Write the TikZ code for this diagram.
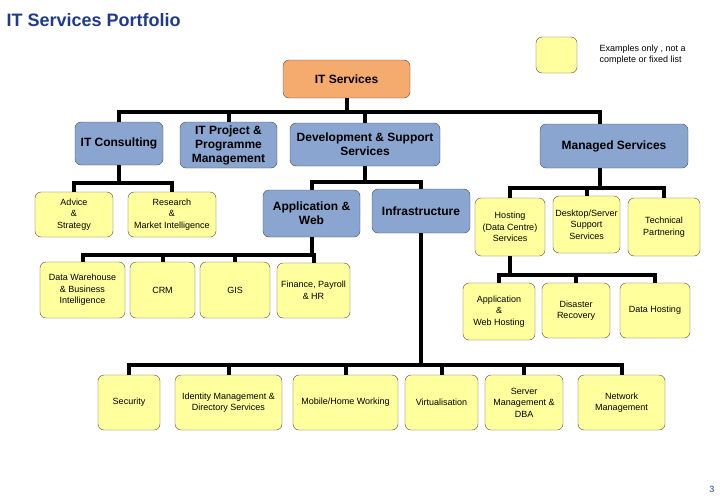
\documentclass[tikz,border=0pt]{standalone}
\usepackage{fontspec}
\setmainfont{Liberation Sans}
\usetikzlibrary{calc}
\definecolor{catblue}{HTML}{8AA5CF}
\definecolor{itemyel}{HTML}{FFFF9E}
\definecolor{topor}{HTML}{F5AA6E}
\definecolor{titleblue}{HTML}{1F3A8C}
\tikzset{
  box/.style={draw=black!70,rounded corners=6pt,align=center,inner sep=1pt},
  cat/.style={box,fill=catblue,font=\fontsize{12}{14}\selectfont\bfseries},
  item/.style={box,fill=itemyel,font=\fontsize{9}{11.5}\selectfont},
  bar/.style={line width=4pt,black}
}
\begin{document}
\begin{tikzpicture}[x=1pt,y=-1pt]
\useasboundingbox (0,0) rectangle (720,498);
\node[anchor=west,font=\fontsize{18}{20}\selectfont\bfseries,text=titleblue] (title) at (3,20) {IT Services Portfolio};
\node[anchor=south east,font=\fontsize{9}{10}\selectfont,text=titleblue] (page) at (718,496) {3};

% legend
\node[item,minimum width=41,minimum height=36] (key) at (556.5,55) {};
\node[anchor=west,align=left,font=\fontsize{9}{11}\selectfont] (keytxt) at (596,55) {Examples only , not a\\complete or fixed list};

% top level
\node[box,fill=topor,font=\fontsize{12}{14}\selectfont\bfseries,minimum width=127,minimum height=38] (svc) at (346.5,79) {IT Services};

\node[cat,minimum width=88,minimum height=43] (cons) at (119,143.5) {IT Consulting};
\node[cat,minimum width=97,minimum height=46] (proj) at (228.5,145) {IT Project \&\\Programme\\Management};
\node[cat,minimum width=150,minimum height=43] (dev) at (365,144.5) {Development \& Support\\Services};
\node[cat,minimum width=148,minimum height=44] (mng) at (614,146) {Managed Services};
\coordinate (mngtop) at ($(mng.north)+(-14,0)$);
\coordinate (mngbot) at ($(mng.south)+(-14,0)$);

\node[item,minimum width=78,minimum height=45] (adv) at (74,214.5) {Advice\\\&\\Strategy};
\node[item,minimum width=88,minimum height=45] (res) at (172,214.5) {Research\\\&\\Market Intelligence};

\node[cat,minimum width=97,minimum height=47] (app) at (311.5,213.5) {Application \&\\Web};
\node[cat,minimum width=98,minimum height=44] (infra) at (421,211) {Infrastructure};

\node[item,minimum width=70,minimum height=58] (host) at (510,227) {Hosting\\(Data Centre)\\Services};
\node[item,minimum width=67,minimum height=57] (desk) at (586.5,224.5) {Desktop/Server\\Support\\Services};
\node[item,minimum width=72,minimum height=58] (tech) at (664,227) {Technical\\Partnering};

\node[item,minimum width=85,minimum height=56] (dw) at (82.5,290) {Data Warehouse\\\& Business\\Intelligence};
\node[item,minimum width=65,minimum height=56] (crm) at (162.5,290) {CRM};
\node[item,minimum width=70,minimum height=56] (gis) at (235,290) {GIS};
\node[item,minimum width=73,minimum height=55] (fin) at (313.5,290.5) {Finance, Payroll\\\& HR};

\node[item,minimum width=72,minimum height=57] (ahost) at (499,311.5) {Application\\\&\\Web Hosting};
\node[item,minimum width=68,minimum height=55] (dis) at (576,310.5) {Disaster\\Recovery};
\node[item,minimum width=70,minimum height=55] (dhost) at (655,310.5) {Data Hosting};

\node[item,minimum width=62,minimum height=55] (sec) at (129,402.5) {Security};
\node[item,minimum width=107,minimum height=55] (idm) at (228.5,402.5) {Identity Management \&\\Directory Services};
\node[item,minimum width=105,minimum height=55] (mob) at (345.5,402.5) {Mobile/Home Working};
\node[item,minimum width=73,minimum height=55] (virt) at (441.5,402.5) {Virtualisation};
\node[item,minimum width=78,minimum height=55] (srv) at (524,402.5) {Server\\Management \&\\DBA};
\node[item,minimum width=87,minimum height=55] (net) at (621.5,402.5) {Network\\Management};

% connectors
\foreach \c in {cons.north,proj.north,dev.north,mngtop}
  \draw[bar] (svc.south) -- ++(0,14) -| (\c);
\foreach \c in {adv,res}
  \draw[bar] (cons.south) -- ++(0,18) -| (\c.north);
\foreach \c in {app,infra}
  \draw[bar] (dev.south) -- ++(0,16) -| (\c.north);
\foreach \c in {host,desk,tech}
  \draw[bar] (mngbot) -- ++(0,20) -| (\c.north);
\foreach \c in {dw,crm,gis,fin}
  \draw[bar] (app.south) -- ++(0,18) -| (\c.north);
\foreach \c in {ahost,dis,dhost}
  \draw[bar] (host.south) -- ++(0,19) -| (\c.north);
\foreach \c in {sec,idm,mob,virt,srv,net}
  \draw[bar] (infra.south) -- ++(0,132) -| (\c.north);
\end{tikzpicture}
\end{document}
